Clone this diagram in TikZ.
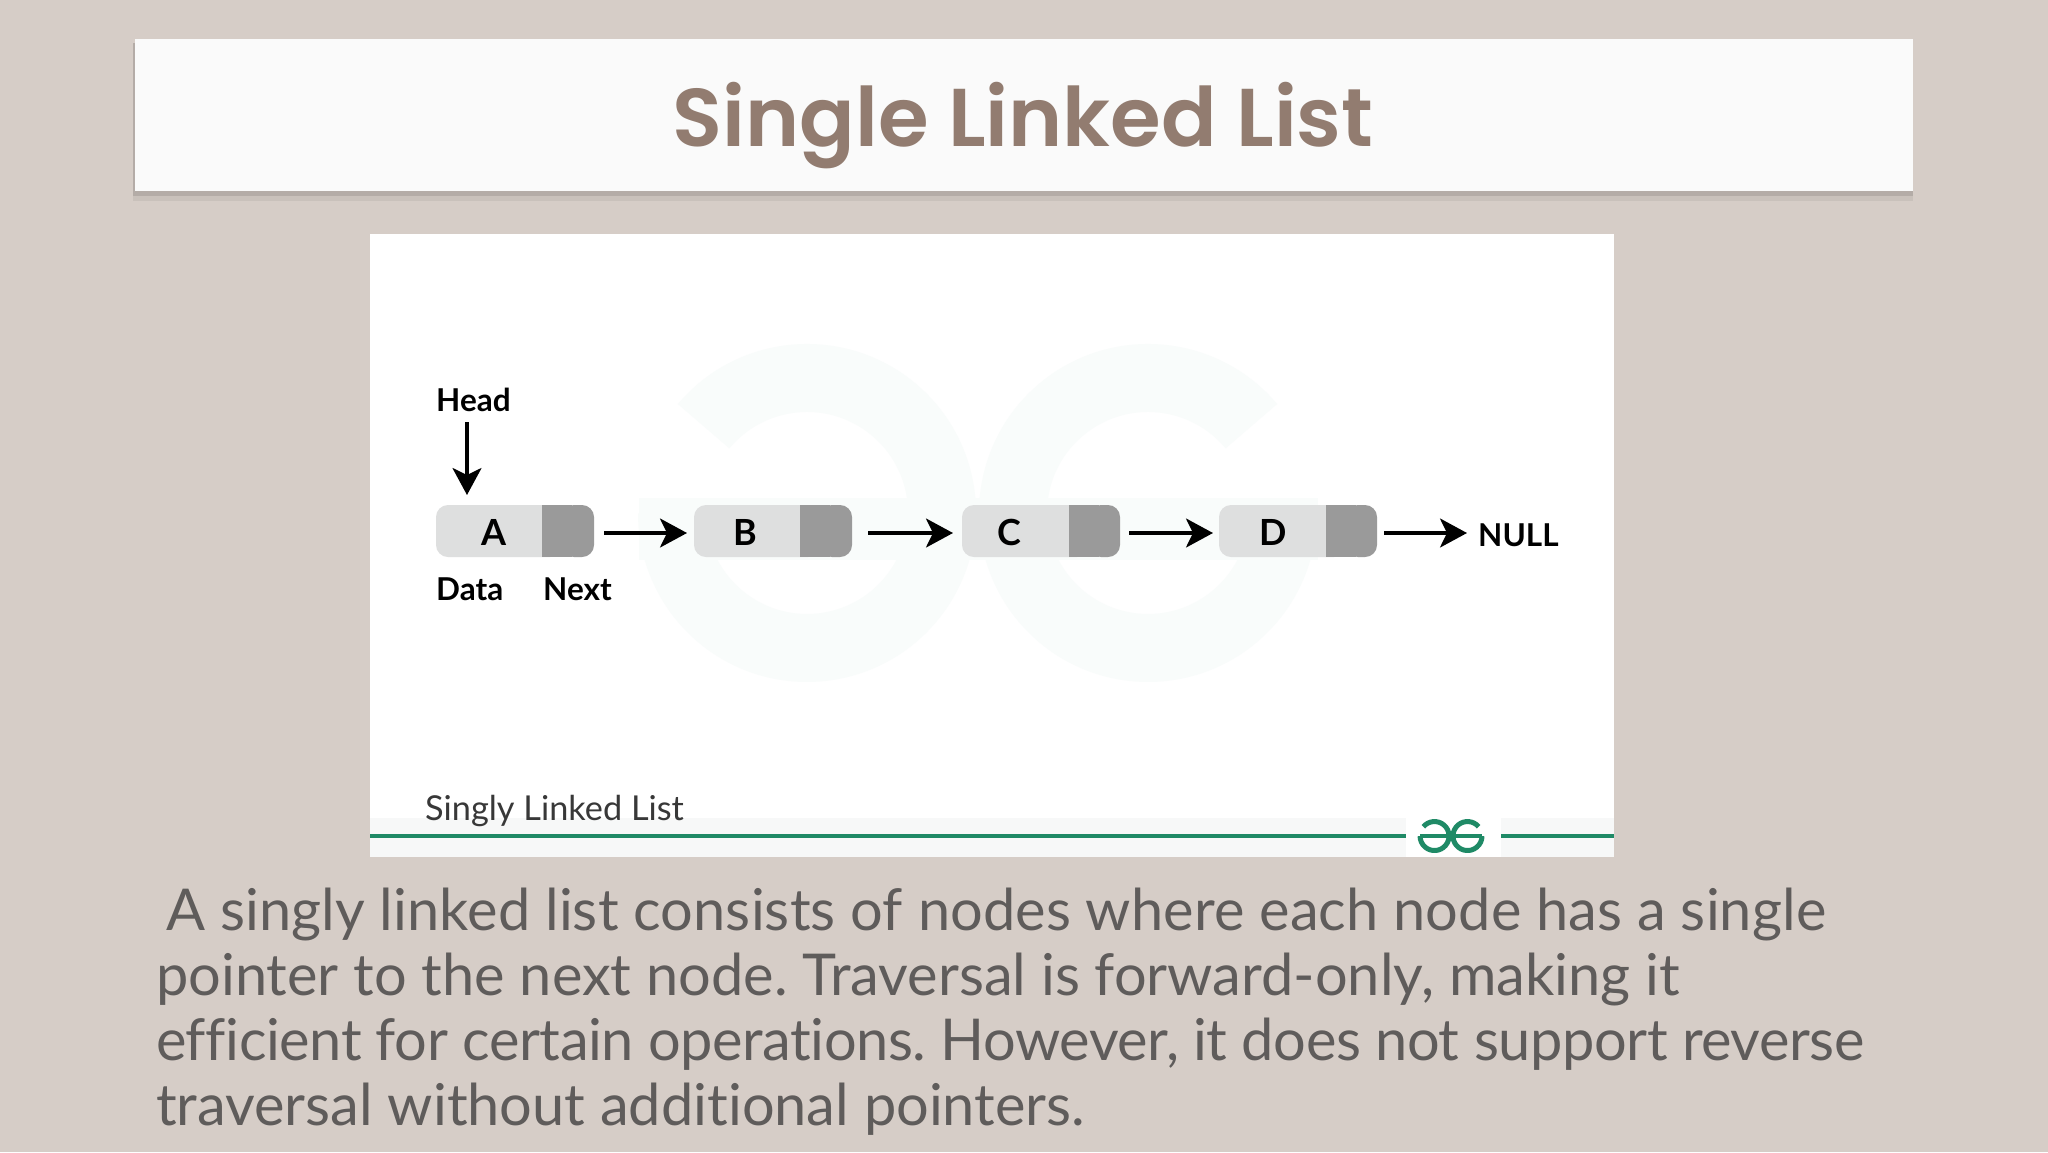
\documentclass[tikz,border=0pt]{standalone}
\usepackage{fontspec}
\usetikzlibrary{arrows.meta}
\setmainfont[Ligatures=NoCommon]{Lato}
\newfontfamily\titlefont{Poppins SemiBold}
\definecolor{bgc}{HTML}{D6CDC7}
\definecolor{titlec}{HTML}{927C70}
\definecolor{bodyc}{HTML}{5F5C5B}
\definecolor{ggreen}{HTML}{1F8A66}
\definecolor{lightc}{HTML}{DEDFDF}
\definecolor{darkc}{HTML}{9A9A9A}
\definecolor{wmark}{HTML}{F9FCFB}
\definecolor{stripc}{HTML}{F7F8F8}
\tikzset{
  x=1pt,y=-1pt,
  lbl/.style={inner sep=0pt,font=\fontsize{31.5}{36}\selectfont\bfseries,text=black},
  letter/.style={inner sep=0pt,font=\fontsize{36}{40}\selectfont\bfseries,text=black},
  link/.style={line width=3.2pt,-{Stealth[length=27pt,width=29pt,inset=7pt]},black},
}
\newcommand{\listcell}[4]{% name, left, split, right
  \fill[lightc,rounded corners=12pt] (#2,505) rectangle (#3+20,557);
  \fill[darkc,rounded corners=12pt] (#3+20,505) rectangle (#4,557);
  \fill[darkc] (#3,505) rectangle (#3+30,557);
  \coordinate (#1W) at (#2,533);
  \coordinate (#1E) at (#4,533);
}
\begin{document}
\begin{tikzpicture}
\useasboundingbox (0,0) rectangle (2048,1152);
\fill[bgc] (0,0) rectangle (2048,1152);
% banner
\fill[black!6!bgc] (133,43) rectangle (1913,201);
\fill[black!16!bgc] (133,43) rectangle (1913,196);
\fill[white!98!black] (135,39) rectangle (1913,191);
\node[inner sep=0pt,anchor=base,text=titlec,font=\titlefont\fontsize{82}{90}\selectfont] (title) at (1023,146) {Single Linked List};
% image
\fill[white] (370,234) rectangle (1614,857);
% watermark
\draw[wmark,line width=68pt] (703.6,426.2) arc[start angle=-140,end angle=180,radius=135];
\draw[wmark,line width=68pt] (1251.4,426.2) arc[start angle=-40,end angle=-360,radius=135];
\fill[wmark] (639,498) rectangle (1318,560);
% strip
\fill[stripc] (370,818) rectangle (1614,857);
\fill[white] (1406,818) rectangle (1501,857);
\draw[ggreen,line width=4pt] (370,836) -- (1406,836);
\draw[ggreen,line width=4pt] (1501,836) -- (1614,836);
\draw[ggreen,line width=5pt] (1423.4,826.7) arc[start angle=-140,end angle=180,radius=14.5];
\draw[ggreen,line width=5pt] (1478.6,826.7) arc[start angle=-40,end angle=-360,radius=14.5];
\draw[ggreen,line width=4pt] (1420,836) -- (1482,836);
\node[inner sep=0pt,anchor=base west,text=black!78,font=\fontsize{34.3}{38}\selectfont] (cap) at (425,820) {Singly Linked List};
% cells
\listcell{a}{436}{542}{594}
\listcell{b}{694}{800}{852}
\listcell{c}{962}{1069}{1120}
\listcell{d}{1219}{1326}{1377}
\node[letter] (la) at (494,532) {A};
\node[letter] (lb) at (745,532) {B};
\node[letter] (lc) at (1009,532) {C};
\node[letter] (ld) at (1273,532) {D};
\node[lbl,anchor=base west] (head) at (436,411) {Head};
\node[lbl,anchor=base west] (data) at (436,600) {Data};
\node[lbl,anchor=base west] (next) at (543,600) {Next};
\node[lbl,anchor=base west] (null) at (1478,546) {NULL};
\coordinate (hs) at (467,422);
\coordinate (aT) at (467,505);
\coordinate (nW) at (1478,533);
\draw[link,shorten >=10pt] (hs) -- (aT);
\draw[link,shorten <=10pt,shorten >=7pt] (aE) -- (bW);
\draw[link,shorten <=16pt,shorten >=9pt] (bE) -- (cW);
\draw[link,shorten <=9pt,shorten >=6pt] (cE) -- (dW);
\draw[link,shorten <=7pt,shorten >=11pt] (dE) -- (nW);
% body
\node[inner sep=0pt,anchor=north west,align=left,text=bodyc,font=\fontsize{57.7}{65}\selectfont\frenchspacing] (body) at (156,888)
{{\addfontfeature{LetterSpace=0.17}\hspace*{10pt}A singly linked list consists of nodes where each node has a single}\\
pointer to the next node. Traversal is forward-only, making it\\
{\addfontfeature{LetterSpace=-0.75}efficient for certain operations. However, it does not support reverse}\\
traversal without additional pointers.};
\end{tikzpicture}
\end{document}
